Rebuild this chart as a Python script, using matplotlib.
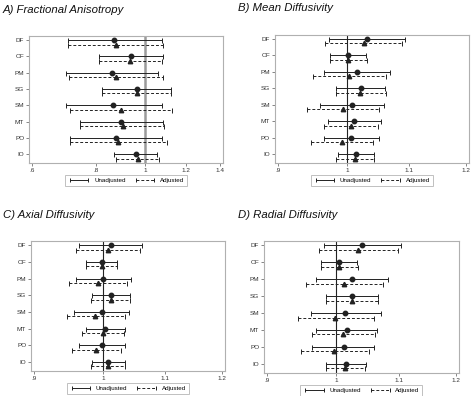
import numpy as np
import matplotlib
matplotlib.use("Agg")
import matplotlib.pyplot as plt
from matplotlib.lines import Line2D
from matplotlib.ticker import NullLocator, FixedLocator, FixedFormatter

plt.rcParams['font.family'] = ['Liberation Sans', 'DejaVu Sans']

labels = ["DF", "OF", "PM", "SG", "SM", "MT", "PO", "IO"]

# A) fractional anisotropy
fa_est = [0.869, 0.936, 0.860, 0.962, 0.866, 0.898, 0.877, 0.958]
fa_lo = [0.705, 0.810, 0.701, 0.824, 0.699, 0.745, 0.713, 0.870]
fa_hi = [1.076, 1.084, 1.059, 1.124, 1.078, 1.083, 1.079, 1.055]
fa_adj_est = [0.875, 0.934, 0.875, 0.962, 0.895, 0.905, 0.884, 0.966]
fa_adj_lo = [0.707, 0.812, 0.708, 0.824, 0.712, 0.746, 0.711, 0.877]
fa_adj_hi = [1.084, 1.079, 1.084, 1.124, 1.127, 1.090, 1.104, 1.063]

# B) mean diffusivity
md_est = [1.0315, 1.0015, 1.015, 1.0216, 1.008, 1.011, 1.006, 1.014]
md_lo = [0.973, 0.975, 0.965, 0.984, 0.959, 0.971, 0.965, 0.986]
md_hi = [1.093, 1.029, 1.069, 1.060, 1.059, 1.053, 1.050, 1.043]
md_adj_est = [1.026, 1.002, 1.0036, 1.021, 0.994, 1.006, 0.993, 1.012]
md_adj_lo = [0.967, 0.975, 0.949, 0.983, 0.941, 0.965, 0.947, 0.983]
md_adj_hi = [1.088, 1.031, 1.061, 1.061, 1.050, 1.049, 1.041, 1.043]

# C) axial diffusivity
ad_est = [1.0118, 0.998, 1.0005, 1.0128, 0.998, 1.0036, 0.9985, 1.008]
ad_lo = [0.964, 0.975, 0.959, 0.984, 0.957, 0.975, 0.964, 0.984]
ad_hi = [1.061, 1.021, 1.044, 1.043, 1.041, 1.034, 1.034, 1.034]
ad_adj_est = [1.0077, 0.998, 0.992, 1.012, 0.988, 1.0005, 0.990, 1.007]
ad_adj_lo = [0.960, 0.974, 0.949, 0.982, 0.946, 0.969, 0.953, 0.982]
ad_adj_hi = [1.058, 1.022, 1.037, 1.043, 1.034, 1.033, 1.028, 1.034]

# D) radial diffusivity
rd_est = [1.0406, 1.0036, 1.024, 1.0248, 1.0139, 1.016, 1.011, 1.0149]
rd_lo = [0.982, 0.977, 0.969, 0.985, 0.962, 0.970, 0.964, 0.985]
rd_hi = [1.104, 1.032, 1.082, 1.066, 1.070, 1.064, 1.059, 1.046]
rd_adj_est = [1.034, 1.0046, 1.012, 1.0248, 0.998, 1.010, 0.997, 1.013]
rd_adj_lo = [0.974, 0.977, 0.955, 0.984, 0.943, 0.963, 0.947, 0.984]
rd_adj_hi = [1.098, 1.034, 1.074, 1.066, 1.059, 1.060, 1.051, 1.044]

panels = [
    ("A) Fractional Anisotropy", [0.0612, 0.588, 0.409, 0.321],
     (fa_est, fa_lo, fa_hi), (fa_adj_est, fa_adj_lo, fa_adj_hi),
     [0.6, 0.8, 1, 1.2, 1.4], [".6", ".8", "1", "1.2", "1.4"], (0.592, 1.419), True),
    ("B) Mean Diffusivity", [0.580, 0.588, 0.409, 0.3245],
     (md_est, md_lo, md_hi), (md_adj_est, md_adj_lo, md_adj_hi),
     [0.9, 1, 1.1, 1.2], [".9", "1", "1.1", "1.2"], (0.8955, 1.2055), False),
    ("C) Axial Diffusivity", [0.0654, 0.0631, 0.409, 0.328],
     (ad_est, ad_lo, ad_hi), (ad_adj_est, ad_adj_lo, ad_adj_hi),
     [0.9, 1, 1.1, 1.2], [".9", "1", "1.1", "1.2"], (0.8955, 1.2055), False),
    ("D) Radial Diffusivity", [0.557, 0.058, 0.411, 0.333],
     (rd_est, rd_lo, rd_hi), (rd_adj_est, rd_adj_lo, rd_adj_hi),
     [0.9, 1, 1.1, 1.2], [".9", "1", "1.1", "1.2"], (0.8955, 1.2055), False),
]

fig = plt.figure(figsize=(4.74, 3.96), dpi=100)
ink = "#222222"
frame = "#b0b0b0"

y = np.arange(len(labels))
for title, pos, unadj, adj, ticks, ticklabels, xlim, grey_ref in panels:
    ax = fig.add_axes(pos)
    ax.set_xscale("log")
    if grey_ref:
        ax.axvline(1, color="#9a9a9a", lw=1.8, zorder=1)
    else:
        ax.axvline(1, color=ink, lw=0.8, zorder=1)

    est, lo, hi = [np.array(v) for v in unadj]
    ax.errorbar(est, y, xerr=[est - lo, hi - est], fmt="o", ms=3.2,
                color=ink, ecolor=ink, elinewidth=0.7, capsize=1.8,
                capthick=0.7, zorder=3)
    est, lo, hi = [np.array(v) for v in adj]
    eb = ax.errorbar(est, y + 0.27, xerr=[est - lo, hi - est], fmt="^", ms=3.2,
                     color=ink, ecolor=ink, elinewidth=0.7, capsize=1.8,
                     capthick=0.7, zorder=3)
    for lc in eb[2]:
        lc.set_linestyle((0, (3, 2)))

    ax.set_xlim(*xlim)
    ax.set_ylim(7.55, -0.25)
    ax.xaxis.set_major_locator(FixedLocator(ticks))
    ax.xaxis.set_major_formatter(FixedFormatter(ticklabels))
    ax.xaxis.set_minor_locator(NullLocator())
    ax.set_yticks(y)
    ax.set_yticklabels(labels)
    ax.tick_params(labelsize=4.6, length=2.0, width=0.5, color="#555555",
                   pad=1.5, labelcolor="#333333")
    for s in ax.spines.values():
        s.set_color(frame)
        s.set_linewidth(0.8)

    x0 = pos[0]
    ytop = pos[1] + pos[3]
    fig.text(0.006 + (0 if x0 < 0.5 else 0.497), ytop + 0.067, title,
             fontsize=8.2, style="italic", va="center", ha="left", color="#111111")

    handles = [
        Line2D([0], [0], color=ink, lw=0.7, marker="|", ms=3.0, mew=0.7),
        Line2D([0], [0], color=ink, lw=0.7, ls=(0, (3, 2)), marker="|", ms=3.0, mew=0.7),
    ]
    leg = ax.legend(handles, ["Unadjusted", "Adjusted"], loc="upper center",
                    bbox_to_anchor=(0.5, -0.065), ncol=2, fontsize=4.5,
                    frameon=True, fancybox=False, numpoints=2, handlelength=3.6,
                    handletextpad=0.6, columnspacing=1.3, borderpad=0.45,
                    edgecolor=frame)
    leg.get_frame().set_linewidth(0.7)

fig.savefig("out.png", dpi=100, facecolor="white")
